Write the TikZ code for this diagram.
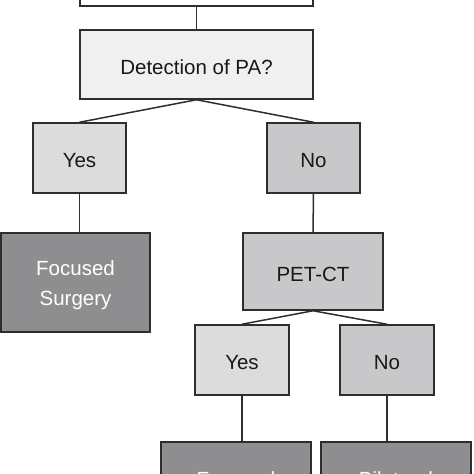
\documentclass[tikz,border=0pt]{standalone}
\usepackage{fontspec}
\setmainfont{Liberation Sans}
\begin{document}
\begin{tikzpicture}[x=1pt,y=-1pt,
  box/.style={draw=black!82, line width=1.5pt, rectangle, inner sep=0pt},
  lab/.style={text=black!90, align=center, inner sep=0pt, yshift=-2.5pt,
    font=\fontsize{20.5}{30}\selectfont},
  wlab/.style={lab, text=white},
  dark/.style={box, fill=fsgray},
  conn/.style={draw=black!82, line width=1.5pt}]
\definecolor{detgray}{HTML}{F0F0F0}
\definecolor{yesgray}{HTML}{DCDCDD}
\definecolor{nogray}{HTML}{C8C8CA}
\definecolor{fsgray}{HTML}{8E8E90}
\useasboundingbox (0,0) rectangle (474,474);
\clip (0,0) rectangle (474,474);
\node[box, fill=white, minimum width=233pt, minimum height=69pt] (top) at (196.5,-28.5) {};
\node[box, fill=detgray, minimum width=233pt, minimum height=69pt,
  label={[lab]center:Detection of PA?}] (det) at (196.5,64.5) {};
\node[box, fill=yesgray, minimum width=93pt, minimum height=70pt,
  label={[lab]center:Yes}] (yes1) at (79.5,158) {};
\node[box, fill=nogray, minimum width=93pt, minimum height=70pt,
  label={[lab]center:No}] (no1) at (313.5,158) {};
\node[dark, minimum width=149pt, minimum height=99pt,
  label={[wlab]center:Focused\\Surgery}] (fs) at (75.5,282.5) {};
\node[box, fill=nogray, minimum width=140pt, minimum height=77pt,
  label={[lab]center:PET-CT}] (pet) at (313,271.5) {};
\node[box, fill=yesgray, minimum width=94pt, minimum height=70pt,
  label={[lab]center:Yes}] (yes2) at (242,360) {};
\node[box, fill=nogray, minimum width=94pt, minimum height=70pt,
  label={[lab]center:No}] (no2) at (387,360) {};
\node[dark, minimum width=150pt, minimum height=99pt,
  label={[wlab]center:Focused\\\mbox{}}] (fb) at (236,491.5) {};
\node[dark, minimum width=150pt, minimum height=99pt,
  label={[wlab]center:Bilateral\\\mbox{}}] (bil) at (396,491.5) {};
\draw[conn] (top.south) -- (det.north);
\draw[conn] (det.south) -- (yes1.north);
\draw[conn] (det.south) -- (no1.north);
\draw[conn] (yes1.south) -- (fs.north -| yes1.south);
\draw[conn] (no1.south) -- (pet.north);
\draw[conn] (pet.south) -- (yes2.north);
\draw[conn] (pet.south) -- (no2.north);
\draw[conn] (yes2.south) -- (fb.north -| yes2.south);
\draw[conn] (no2.south) -- (bil.north -| no2.south);
\end{tikzpicture}
\end{document}
